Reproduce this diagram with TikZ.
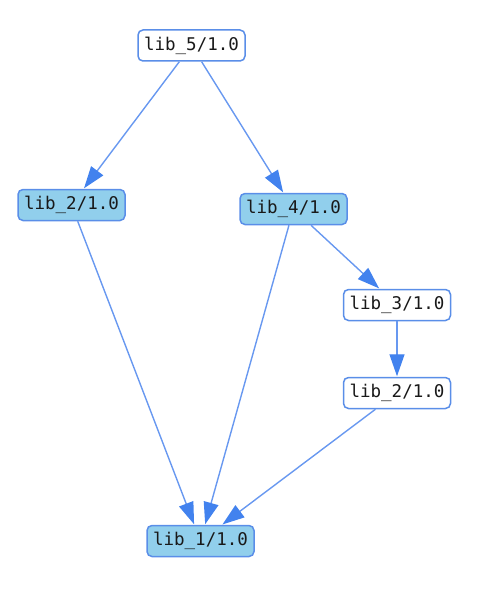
\documentclass[tikz,border=0pt]{standalone}
\usepackage{fontspec}
\setmonofont{DejaVu Sans Mono}
\usetikzlibrary{arrows.meta}
\definecolor{libline}{RGB}{90,142,232}
\definecolor{libfill}{RGB}{145,207,236}
\definecolor{libedge}{RGB}{104,152,240}
\definecolor{libtip}{RGB}{66,130,238}

\begin{document}
\begin{tikzpicture}[x=1pt,y=-1pt,
        lib/.style={draw=libline,line width=1.5pt,rounded corners=5pt,fill=white,
            minimum width=107pt,minimum height=31pt,inner sep=0pt,
            font=\ttfamily\fontsize{17.5}{17.5}\selectfont,text=black!90},
        used/.style={lib,fill=libfill},
        dep/.style={draw=libedge,line width=1.4pt,
            -{Triangle[length=22pt,width=15pt,color=libtip,fill=libtip]},shorten >=0.5pt}]
        \useasboundingbox (0,0) rectangle (501,594);

        \node[lib]  (l5)  at (191.5,45.5) {lib\_5/1.0};
        \node[used] (l2a) at (71.5,205)   {lib\_2/1.0};
        \node[used] (l4)  at (293.5,209)  {lib\_4/1.0};
        \node[lib]  (l3)  at (397,305)    {lib\_3/1.0};
        \node[lib]  (l2b) at (397,393)    {lib\_2/1.0};
        \node[used] (l1)  at (200.5,541)  {lib\_1/1.0};

        \draw[dep] (l5) -- (l2a);
        \draw[dep] (l5) -- (l4);
        \draw[dep] (l2a) -- (l1);
        \draw[dep] (l4) -- (l1);
        \draw[dep] (l4) -- (l3);
        \draw[dep] (l3) -- (l2b);
        \draw[dep] (l2b) -- (l1);
      \end{tikzpicture}
\end{document}
